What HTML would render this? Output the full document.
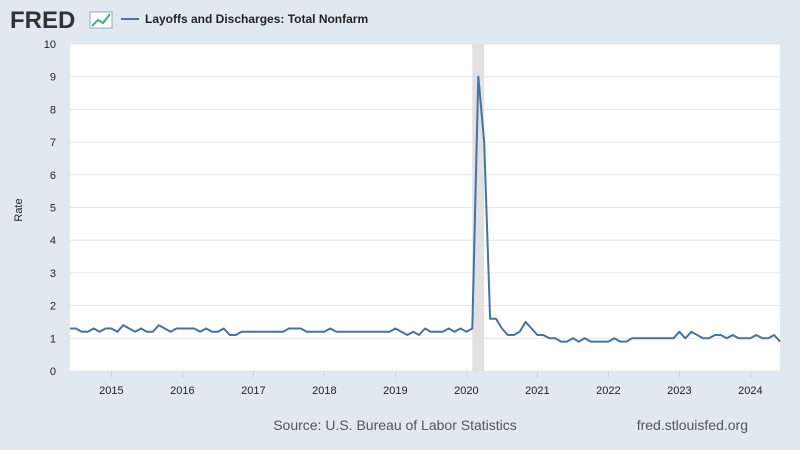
<!DOCTYPE html>
<html><head><meta charset="utf-8"><style>
body{margin:0;background:#e1e9f0;font-family:"Liberation Sans",sans-serif;}
svg{display:block}
</style></head><body>
<svg id="c" width="800" height="450">
<rect x="0" y="0" width="800" height="450" fill="#e1e9f0"/>
<text x="10" y="28" font-size="24" font-weight="bold" fill="#333">FRED</text>
<rect x="90" y="12" width="22" height="16" fill="#fff" stroke="#9ab"/>
<polyline points="92,26 98,20 103,23 110,14" fill="none" stroke="#4a8" stroke-width="2"/>
<line x1="121" y1="19" x2="139" y2="19" stroke="#4572a7" stroke-width="2"/>
<text x="145" y="23" font-size="12" font-weight="bold" fill="#222">Layoffs and Discharges: Total Nonfarm</text>
<rect x="70" y="44" width="710" height="327" fill="#fff"/>
<g id="grid"></g><g id="rec"></g><g id="ticks"></g>
<path id="line" fill="none" stroke="#4572a7" stroke-width="2" stroke-linejoin="round"/>
<text x="22" y="210" font-size="11" fill="#222" transform="rotate(-90 22 210)" text-anchor="middle">Rate</text>
<text x="395" y="430" font-size="14" fill="#555" text-anchor="middle">Source: U.S. Bureau of Labor Statistics</text>
<text x="748" y="430" font-size="14" fill="#555" text-anchor="end">fred.stlouisfed.org</text>
</svg>
<script>
const startYear=2014.4167;
const values=[1.3,1.3,1.2,1.2,1.3,1.2,1.3,
1.3,1.2,1.4,1.3,1.2,1.3,1.2,1.2,1.4,1.3,1.2,1.3,
1.3,1.3,1.3,1.2,1.3,1.2,1.2,1.3,1.1,1.1,1.2,1.2,
1.2,1.2,1.2,1.2,1.2,1.2,1.3,1.3,1.3,1.2,1.2,1.2,
1.2,1.3,1.2,1.2,1.2,1.2,1.2,1.2,1.2,1.2,1.2,1.2,
1.3,1.2,1.1,1.2,1.1,1.3,1.2,1.2,1.2,1.3,1.2,1.3,
1.2,1.3,9.0,7.0,1.6,1.6,1.3,1.1,1.1,1.2,1.5,1.3,
1.1,1.1,1.0,1.0,0.9,0.9,1.0,0.9,1.0,0.9,0.9,0.9,
0.9,1.0,0.9,0.9,1.0,1.0,1.0,1.0,1.0,1.0,1.0,1.0,
1.2,1.0,1.2,1.1,1.0,1.0,1.1,1.1,1.0,1.1,1.0,1.0,
1.0,1.1,1.0,1.0,1.1,0.9];
const yTicks=[0,1,2,3,4,5,6,7,8,9,10];
const xTicks=[2015,2016,2017,2018,2019,2020,2021,2022,2023,2024];
const recession=[2020.083,2020.25];
const x=t=>70+(t-startYear)*(710/10);
const y=v=>371-v*32.7;
const NS='http://www.w3.org/2000/svg';
const g=document.getElementById('grid'),tk=document.getElementById('ticks'),rc=document.getElementById('rec');
yTicks.forEach(v=>{
 const l=document.createElementNS(NS,'line');
 l.setAttribute('x1',70);l.setAttribute('x2',780);l.setAttribute('y1',y(v));l.setAttribute('y2',y(v));
 l.setAttribute('stroke','#e6e6e6');
 
 
 g.appendChild(l);
 const t=document.createElementNS(NS,'text');
 t.setAttribute('x',56);t.setAttribute('y',y(v)+4);t.setAttribute('font-size',11);t.setAttribute('text-anchor','end');t.setAttribute('fill','#222');
 t.textContent=v;
 
 
 tk.appendChild(t);
});
xTicks.forEach(v=>{
 const t=document.createElementNS(NS,'text');
 t.setAttribute('x',x(v));t.setAttribute('y',394);t.setAttribute('font-size',11);t.setAttribute('text-anchor','middle');t.setAttribute('fill','#222');
 t.textContent=v;
 
 
 tk.appendChild(t);
 const l=document.createElementNS(NS,'line');
 l.setAttribute('x1',x(v));l.setAttribute('x2',x(v));l.setAttribute('y1',371);l.setAttribute('y2',378);l.setAttribute('stroke','#ccd6eb');
 
 
 tk.appendChild(l);
});
const r=document.createElementNS(NS,'rect');
r.setAttribute('x',x(recession[0]));r.setAttribute('width',x(recession[1])-x(recession[0]));r.setAttribute('y',44);r.setAttribute('height',327);r.setAttribute('fill','#e1e1e1');


rc.appendChild(r);
document.getElementById('line').setAttribute('d',values.map((v,i)=>(i?'L':'M')+x(startYear+i/12).toFixed(1)+','+y(v).toFixed(1)).join(''));
</script>
</body></html>
